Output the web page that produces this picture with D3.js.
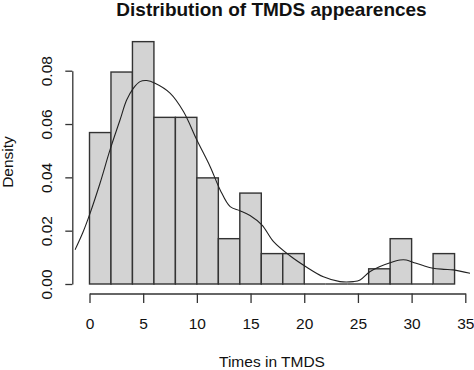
<!DOCTYPE html>
<html>
<head>
<meta charset="utf-8">
<script src="https://cdn.jsdelivr.net/npm/d3@7"></script>
<style>
  html, body { margin: 0; padding: 0; background: #fff; }
  svg { display: block; font-family: "Liberation Sans", Arial, sans-serif; }
</style>
</head>
<body>
<svg id="chart" width="474" height="370"></svg>
<script>
// Histogram bins (width 2) and densities
const binStarts = [0, 2, 4, 6, 8, 10, 12, 14, 16, 18, 20, 22, 24, 26, 28, 30, 32];
const binWidth = 2;
const densities = [0.0568, 0.0795, 0.0909, 0.0625, 0.0625, 0.0398, 0.0170, 0.0341, 0.0114, 0.0114,
                   0, 0, 0, 0.0057, 0.0170, 0, 0.0114];

// Kernel density curve
const curveX = [-1.35, -0.6, 0.05, 0.98, 1.91, 2.84, 3.46, 4.08, 4.7, 5.33, 6.1, 7.5, 8.75, 10.0,
                11.24, 12.17, 13.1, 14.01, 14.95, 16.07, 17.12, 18.67, 20.23, 21.78, 23.33, 24.57,
                25.2, 26.1, 27.0, 28.0, 28.92, 29.5, 30.16, 31.0, 32.0, 33.0, 33.88, 35.44];
const curveY = [0.0128, 0.0195, 0.0265, 0.0378, 0.0503, 0.0615, 0.069, 0.0734, 0.0759, 0.0763,
                0.0753, 0.0716, 0.0647, 0.054, 0.044, 0.0353, 0.029, 0.0275, 0.0257, 0.0221,
                0.016, 0.0106, 0.0063, 0.0027, 0.0009, 0.0009, 0.0015, 0.0046, 0.0065, 0.008,
                0.009, 0.009, 0.0081, 0.007, 0.0059, 0.0055, 0.0053, 0.004];

const xTicks = [0, 5, 10, 15, 20, 25, 30, 35];
const yTicks = [0, 0.02, 0.04, 0.06, 0.08];
const yTickLabels = ["0.00", "0.02", "0.04", "0.06", "0.08"];

const titleText = "Distribution of TMDS appearences";
const xLabel = "Times in TMDS";
const yLabel = "Density";

const svg = d3.select("#chart");

const x = d3.scaleLinear().domain([0, 35]).range([89.5, 465.3]);
const y = d3.scaleLinear().domain([0, 0.08]).range([284, 70.7]);

// clip for plot region
svg.append("defs").append("clipPath").attr("id", "plotclip")
  .append("rect").attr("x", 74.5).attr("y", 38).attr("width", 396).attr("height", 256);

// Bars
svg.append("g").selectAll("rect")
  .data(binStarts.map((s, i) => ({ s, d: densities[i] })).filter(b => b.d > 0))
  .join("rect")
  .attr("x", b => x(b.s))
  .attr("width", b => x(b.s + binWidth) - x(b.s))
  .attr("y", b => y(b.d))
  .attr("height", b => y(0) - y(b.d))
  .attr("fill", "#d3d3d3")
  .attr("stroke", "#333")
  .attr("stroke-width", 1.4);

// baseline segments of empty bins (R draws zero-height rects)
svg.append("g").selectAll("line")
  .data(binStarts.map((s, i) => ({ s, d: densities[i] })).filter(b => b.d === 0))
  .join("line")
  .attr("x1", b => x(b.s)).attr("x2", b => x(b.s + binWidth))
  .attr("y1", y(0)).attr("y2", y(0))
  .attr("stroke", "#333").attr("stroke-width", 1.4);

// Density curve
const line = d3.line()
  .x(i => x(curveX[i]))
  .y(i => y(curveY[i]))
  .curve(d3.curveCatmullRom.alpha(0.5));
svg.append("path")
  .attr("clip-path", "url(#plotclip)")
  .attr("d", line(d3.range(curveX.length)))
  .attr("fill", "none")
  .attr("stroke", "#222")
  .attr("stroke-width", 1.1);

// X axis
const xAxis = d3.axisBottom(x).tickValues(xTicks).tickSize(9.5).tickSizeOuter(0).tickPadding(15);
const gx = svg.append("g").attr("transform", "translate(0,293.5)").call(xAxis);
gx.selectAll("path, line").attr("stroke", "#333").attr("stroke-width", 1.3);
gx.selectAll("text").attr("font-size", "15.5px").attr("fill", "#111")
  .attr("font-family", "'Liberation Sans', Arial, sans-serif");

// Y axis
const yAxis = d3.axisLeft(y).tickValues(yTicks).tickSize(7).tickSizeOuter(0)
  .tickFormat((d, i) => yTickLabels[i]);
const gy = svg.append("g").attr("transform", "translate(72.3,0)").call(yAxis);
gy.selectAll("path, line").attr("stroke", "#333").attr("stroke-width", 1.3);
gy.selectAll("text")
  .attr("font-size", "15.5px").attr("fill", "#111")
  .attr("font-family", "'Liberation Sans', Arial, sans-serif")
  .attr("text-anchor", "middle")
  .attr("x", 0).attr("dy", null).attr("y", 0)
  .attr("transform", "translate(-26,0) rotate(-90)")
  .attr("dominant-baseline", "central");

// Title
svg.append("text")
  .attr("x", 271.5).attr("y", 16)
  .attr("text-anchor", "middle")
  .attr("font-weight", "bold")
  .attr("font-size", "19px")
  .attr("fill", "#111")
  .text(titleText);

// X label
svg.append("text")
  .attr("x", 272).attr("y", 366.5)
  .attr("text-anchor", "middle")
  .attr("font-size", "15.5px")
  .attr("fill", "#111")
  .text(xLabel);

// Y label
svg.append("text")
  .attr("transform", "translate(13,162) rotate(-90)")
  .attr("text-anchor", "middle")
  .attr("font-size", "15.5px")
  .attr("fill", "#111")
  .text(yLabel);
</script>
</body>
</html>
